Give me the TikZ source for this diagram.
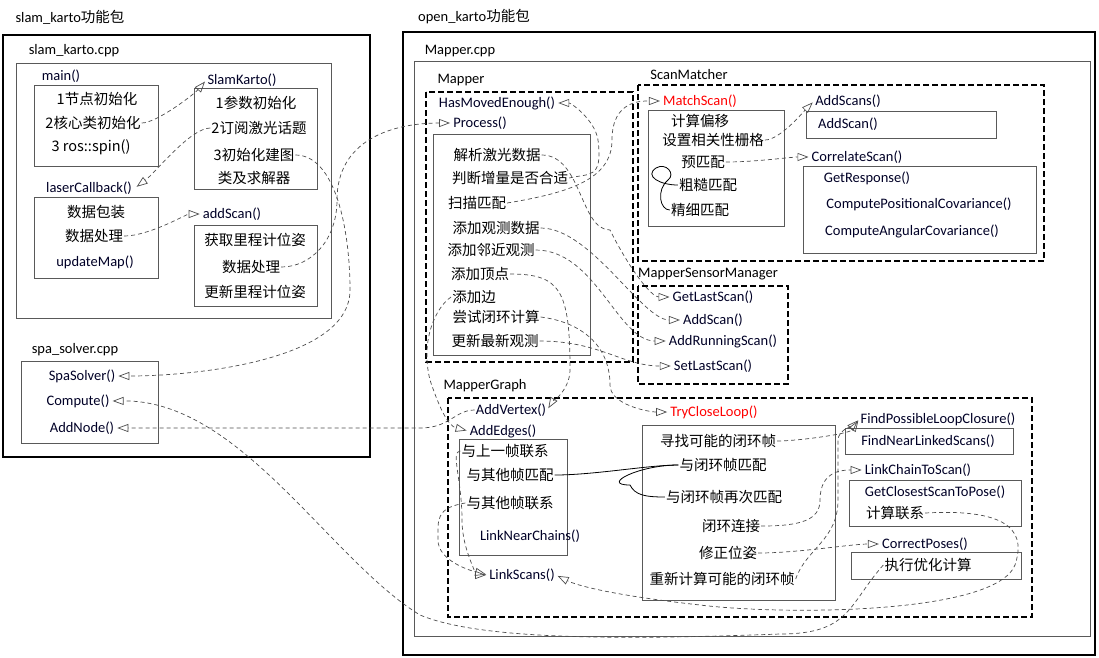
\documentclass[tikz,border=0pt]{standalone}
\usepackage{fontspec}
\setmainfont{Carlito}
\newfontfamily\cjk{Noto Sans CJK SC}
\usetikzlibrary{arrows.meta}
\begin{document}
\begin{tikzpicture}[x=1pt,y=-1pt,
  lt/.style={font=\fontsize{14.5}{15}\selectfont, inner sep=1pt, text=black!85!blue},
  cn/.style={font=\cjk\fontsize{14.5}{15}\selectfont, inner sep=1pt},
  red/.style={text=red},
  gbox/.style={draw=black!65, line width=1pt},
  dbox/.style={draw=black, line width=1.1pt, dash pattern=on 6pt off 3pt},
  obox/.style={draw=black, line width=2.4pt},
  con/.style={draw=black!70, line width=0.7pt, dash pattern=on 4pt off 3pt, -{Triangle[open,length=11pt,width=8pt]}, shorten >=2pt},
  sol/.style={draw=black, line width=0.8pt}]
\useasboundingbox (0,0) rectangle (1099,657);
% titles
\node[lt, text=black] (t1) at (70,17) {slam\_karto{\cjk 功能包}};
\node[lt, text=black] (t2) at (474,17) {open\_karto{\cjk 功能包}};
\draw[obox] (3,35) rectangle (370,457);
\draw[obox] (403,32) rectangle (1095,655);
% slam_karto.cpp
\node[lt, text=black] (skc) at (74,51) {slam\_karto.cpp};
\draw[gbox] (16,63) rectangle (331,318);
\node[lt] (mn) at (61,76) {main()};
\draw[gbox] (34,85) rectangle (158,166);
\node[cn] (m1) at (97,99) {1节点初始化};
\node[cn] (m2) at (93,123) {2核心类初始化};
\node[cn] (m3) at (91,147) {3 ros::spin()};
\node[lt] (sk) at (242,80) {SlamKarto()};
\draw[gbox] (194,88) rectangle (317,189);
\node[cn] (s1) at (256,103) {1参数初始化};
\node[cn] (s2) at (259,128) {2订阅激光话题};
\node[cn] (s3) at (254,155) {3初始化建图};
\node[cn] (s4) at (254,178) {类及求解器};
\node[lt] (lc) at (89,188) {laserCallback()};
\draw[gbox] (34,197) rectangle (158,278);
\node[cn] (l1) at (96,212) {数据包装};
\node[cn] (l2) at (94,236) {数据处理};
\node[lt] (l3) at (95,262) {updateMap()};
\node[lt] (as) at (232,214) {addScan()};
\draw[gbox] (194,225) rectangle (317,306);
\node[cn] (a1) at (255,240) {获取里程计位姿};
\node[cn] (a2) at (251,267) {数据处理};
\node[cn] (a3) at (255,292) {更新里程计位姿};
\node[lt, text=black] (spc) at (75,350) {spa\_solver.cpp};
\draw[gbox] (21,361) rectangle (158,443);
\node[lt] (ss) at (82,376) {SpaSolver()};
\node[lt] (cp) at (78,401) {Compute()};
\node[lt] (an) at (82,428) {AddNode()};
% Mapper.cpp
\node[lt, text=black] (mpc) at (460,51) {Mapper.cpp};
\draw[gbox] (414,61) rectangle (1090,636);
\node[lt, text=black] (mp) at (461,80) {Mapper};
\draw[dbox] (426,92) rectangle (633,362);
\node[lt] (hm) at (497,103) {HasMovedEnough()};
\node[lt] (pr) at (480,123) {Process()};
\draw[gbox] (433,134) rectangle (590,355);
\node[cn] (p1) at (497,155) {解析激光数据};
\node[cn] (p2) at (510,178) {判断增量是否合适};
\node[cn] (p3) at (477,203) {扫描匹配};
\node[cn] (p4) at (496,228) {添加观测数据};
\node[cn] (p5) at (491,250) {添加邻近观测};
\node[cn] (p6) at (480,274) {添加顶点};
\node[cn] (p7) at (474,297) {添加边};
\node[cn] (p8) at (496,317) {尝试闭环计算};
\node[cn] (p9) at (495,341) {更新最新观测};
% ScanMatcher
\node[lt, text=black] (smt) at (689,75) {ScanMatcher};
\draw[dbox] (638,85) rectangle (1044,261);
\node[lt, red] (ms) at (700,101) {MatchScan()};
\draw[gbox] (648,110) rectangle (784,226);
\node[cn] (q1) at (700,121) {计算偏移};
\node[cn] (q2) at (713,140) {设置相关性栅格};
\node[cn] (q3) at (703,162) {预匹配};
\node[cn] (q4) at (708,185) {粗糙匹配};
\node[cn] (q5) at (700,210) {精细匹配};
\node[lt] (ass) at (848,101) {AddScans()};
\draw[gbox] (806,111) rectangle (996,138);
\node[lt] (ass1) at (848,124) {AddScan()};
\node[lt] (cs) at (857,157) {CorrelateScan()};
\draw[gbox] (803,166) rectangle (1036,253);
\node[lt] (cs1) at (867,178) {GetResponse()};
\node[lt] (cs2) at (919,204) {ComputePositionalCovariance()};
\node[lt] (cs3) at (912,231) {ComputeAngularCovariance()};
% MapperSensorManager
\node[lt, text=black] (msm) at (708,274) {MapperSensorManager};
\draw[dbox] (638,286) rectangle (788,384);
\node[lt] (g1) at (713,297) {GetLastScan()};
\node[lt] (g2) at (713,320) {AddScan()};
\node[lt] (g3) at (723,341) {AddRunningScan()};
\node[lt] (g4) at (713,366) {SetLastScan()};
% MapperGraph
\node[lt, text=black] (mg) at (485,386) {MapperGraph};
\draw[dbox] (448,398) rectangle (1032,617);
\node[lt] (av) at (511,410) {AddVertex()};
\node[lt] (ae) at (503,431) {AddEdges()};
\draw[gbox] (459,439) rectangle (567,555);
\node[cn] (e1) at (505,451) {与上一帧联系};
\node[cn] (e2) at (510,475) {与其他帧匹配};
\node[cn] (e3) at (510,503) {与其他帧联系};
\node[lt] (e4) at (530,536) {LinkNearChains()};
\node[lt] (ls) at (522,575) {LinkScans()};
\node[lt, red] (tc) at (714,412) {TryCloseLoop()};
\draw[gbox] (642,425) rectangle (835,600);
\node[cn] (c1) at (718,441) {寻找可能的闭环帧};
\node[cn] (c2) at (723,465) {与闭环帧匹配};
\node[cn] (c3) at (724,497) {与闭环帧再次匹配};
\node[cn] (c4) at (731,526) {闭环连接};
\node[cn] (c5) at (728,553) {修正位姿};
\node[cn] (c6) at (722,579) {重新计算可能的闭环帧};
\node[lt] (fp) at (938,419) {FindPossibleLoopClosure()};
\draw[gbox] (845,428) rectangle (1013,454);
\node[lt] (fp1) at (928,441) {FindNearLinkedScans()};
\node[lt] (lk) at (918,470) {LinkChainToScan()};
\draw[gbox] (849,480) rectangle (1021,526);
\node[lt] (lk1) at (935,492) {GetClosestScanToPose()};
\node[cn] (lk2) at (895,513) {计算联系};
\node[lt] (co) at (925,544) {CorrectPoses()};
\draw[gbox] (851,552) rectangle (1021,579);
\node[cn] (co1) at (928,565) {执行优化计算};
% connectors: slam_karto
\draw[con] (m2.east) .. controls +(15,0) and +(-12,14) .. (sk.west);
\draw[con] (s2.west) .. controls +(-20,0) and +(20,-15) .. ([xshift=2pt]lc.east);
\draw[con] (l2.east) .. controls +(25,0) and +(-15,0) .. (as.west);
\draw[con] (a2.east) .. controls +(30,0) and +(0,40) .. (337,200) .. controls +(0,-60) and +(-60,0) .. (pr.west);
\draw[con] (s3.east) .. controls +(40,0) and +(0,-60) .. (350,290) .. controls +(0,70) and +(80,0) .. (ss.east);
\draw[con] (co1.west) .. controls (848,605) and (850,634) .. (780,634) .. controls (620,640) and (480,640) .. (420,615) .. controls (330,560) and (240,400) .. (cp.east);
\draw[con] (av.west) .. controls +(-20,0) and +(30,0) .. (420,428) -- (an.east);
% Mapper process
\draw[con] (p2.east) .. controls +(20,-5) and +(5,40) .. (598,140) .. controls +(-3,-20) and +(15,0) .. (hm.east);
\draw[con] (p3.east) .. controls +(60,-10) and +(0,40) .. (612,140) .. controls +(0,-40) and +(-20,0) .. (ms.west);
\draw[con] (p1.east) .. controls +(40,0) and +(-30,0) .. (610,230) .. controls +(20,40) and +(-20,0) .. (g1.west);
\draw[con] (p4.east) .. controls +(50,0) and +(-40,0) .. (g2.west);
\draw[con] (p5.east) .. controls +(60,0) and +(-50,0) .. (g3.west);
\draw[con] (p6.east) .. controls +(50,0) and +(0,-80) .. (570,370) .. controls +(0,20) and +(3,-5) .. (av.east);
\draw[con] (p7.west) .. controls +(-15,10) and +(-10,-40) .. (430,380) .. controls +(10,30) and +(-20,-5) .. (ae.west);
\draw[con] (p8.east) .. controls +(40,5) and +(0,-40) .. (610,385) .. controls +(0,20) and +(-20,0) .. (tc.west);
\draw[con] (p9.east) .. controls +(60,0) and +(-50,0) .. (g4.west);
% ScanMatcher
\draw[con] (q2.east) .. controls +(15,0) and +(-10,10) .. (ass.west);
\draw[con] (q3.east) .. controls +(30,0) and +(-20,0) .. (cs.west);
\draw[sol] (q4.west) .. controls +(-18,0) and +(-12,8) .. (656,168) .. controls +(10,-6) and +(8,-6) .. (668,180) .. controls +(-12,10) and +(-10,0) .. (q5.west);
% MapperGraph
\draw[con] (e1.west) .. controls +(-10,0) and +(0,-40) .. (462,520) .. controls +(0,30) and +(-10,0) .. (ls.west);
\draw[con] (e3.west) .. controls +(-30,5) and +(0,-20) .. (438,540) .. controls +(0,20) and +(-20,-5) .. (ls.west);
\draw[sol] (e2.east) .. controls +(40,0) and +(-30,0) .. (c2.west);
\draw[sol] (c2.west) .. controls +(-40,0) and +(-30,0) .. (630,485) .. controls +(5,10) and +(-20,0) .. (c3.west);
\draw[con] (c1.east) .. controls +(20,0) and +(-10,15) .. (fp.west);
\draw[con] (c4.east) .. controls +(40,0) and +(0,20) .. (820,500) .. controls +(0,-30) and +(-20,0) .. (lk.west);
\draw[con] (c5.east) .. controls +(40,0) and +(-30,0) .. (co.west);
\draw[con] (c6.east) .. controls +(10,-30) and +(0,40) .. (838,500) -- (838,440) .. controls +(0,-10) and +(-5,5) .. (fp.west);
\draw[con] (lk2.east) .. controls +(90,-5) and +(10,-30) .. (1015,565) .. controls +(-20,50) and +(80,10) .. (700,605) .. controls +(-90,-10) and +(20,10) .. (ls.east);
\end{tikzpicture}
\end{document}
